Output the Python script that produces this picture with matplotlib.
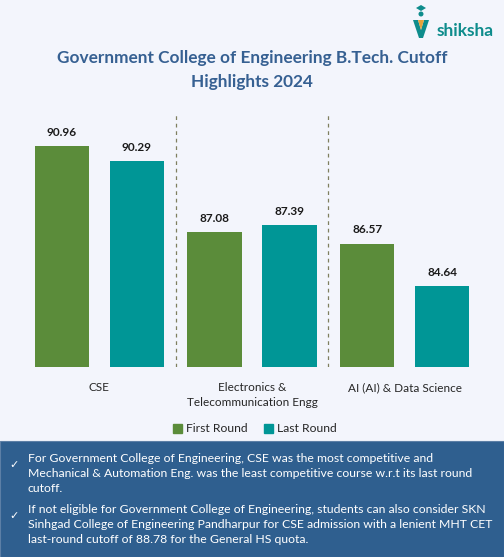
import matplotlib.pyplot as plt
import matplotlib.patches as patches
import numpy as np

# Dati
categories = ['CSE', 'Electronics &\nTelecommunication Engg', 'AI (AI) & Data Science']
first_round = [90.96, 87.08, 86.57]
last_round = [90.29, 87.39, 84.64]
series_names = ['First Round', 'Last Round']

notes = [
    'For Government College of Engineering, CSE was the most competitive and\n'
    'Mechanical & Automation Eng. was the least competitive course w.r.t its last round\n'
    'cutoff.',
    'If not eligible for Government College of Engineering, students can also consider SKN\n'
    'Sinhgad College of Engineering Pandharpur for CSE admission with a lenient MHT CET\n'
    'last-round cutoff of 88.78 for the General HS quota.',
]

bg = '#F3F5FC'
green = '#5B8C3A'
teal = '#009696'
title_blue = '#366092'
box_blue = '#2F5F8F'

plt.rcParams['font.family'] = ['Lato', 'DejaVu Sans']

W, H = 504, 557
fig = plt.figure(figsize=(W / 100, H / 100), dpi=100, facecolor=bg)


def px(x, y):
    # pixel (da in alto a sinistra) -> coordinate figura
    return (x / W, 1 - y / H)


# Area del grafico
left, right, top, bottom = 23, 481, 114, 367
ax = fig.add_axes([left / W, 1 - bottom / H, (right - left) / W, (bottom - top) / H])
ax.set_facecolor(bg)

x = np.arange(len(categories))
bw = 0.357
off = 0.246
b1 = ax.bar(x - off, first_round, bw, color=green)
b2 = ax.bar(x + off, last_round, bw, color=teal)
ax.set_ylim(81, 92.42)
ax.set_xlim(-0.5, len(categories) - 0.5)

for bars in (b1, b2):
    ax.bar_label(bars, labels=[f'{v:.2f}' for v in bars.datavalues], padding=6,
                 fontsize=8.5, fontweight='bold', color='#1a1a1a')

for sep in x[:-1] + 0.5:
    ax.axvline(sep, color='#7F7F5F', lw=0.9, ls=(0, (3, 3)))

ax.set_yticks([])
ax.set_xticks(x)
ax.set_xticklabels(categories, fontsize=8.5, color='#262626', linespacing=1.45, va='top')
ax.tick_params(axis='x', length=0, pad=11)
for s in ax.spines.values():
    s.set_visible(False)

# Legenda
handles = [patches.Patch(color=green), patches.Patch(color=teal)]
fig.legend(handles, series_names, loc='center', bbox_to_anchor=px(255, 429),
           ncol=2, frameon=False, fontsize=8.7, handlelength=0.7, handleheight=0.7,
           handletextpad=0.35, columnspacing=1.4, labelcolor='#262626')

# Titolo
fig.text(*px(252, 58), 'Government College of Engineering B.Tech. Cutoff',
         ha='center', va='center', fontsize=12.4, fontweight='bold', color=title_blue)
fig.text(*px(252, 82), 'Highlights 2024',
         ha='center', va='center', fontsize=12.4, fontweight='bold', color=title_blue)

# Logo
fig.text(*px(494, 31), 'shiksha', ha='right', va='center', fontsize=12.5,
         color='#0E8C8C', fontweight='bold')
cup = patches.Polygon([px(413, 20), px(418, 20), px(421, 30), px(424, 20), px(429, 20),
                       px(423, 38), px(419, 38)], closed=True, transform=fig.transFigure,
                      facecolor='#0E8C8C', edgecolor='none')
flame = patches.Polygon([px(418, 20), px(424, 20), px(421, 30)], closed=True,
                        transform=fig.transFigure, facecolor='#E8A33A', edgecolor='none')
cap = patches.Polygon([px(416, 8), px(421, 5), px(426, 8), px(421, 11)], closed=True,
                      transform=fig.transFigure, facecolor='#0E8C8C', edgecolor='none')
head = patches.Ellipse(px(421, 14), 5 / W, 5 / H, transform=fig.transFigure,
                       facecolor='#0E8C8C', edgecolor='none')
for p in (cup, flame, cap, head):
    fig.patches.append(p)

# Riquadro note
fig.patches.append(patches.Rectangle((0, 0), 1, 1 - 441 / H, transform=fig.transFigure,
                                     facecolor=box_blue, edgecolor='#5C7FA6', lw=0.8))
note_y = [460, 511]
for ny, note in zip(note_y, notes):
    fig.text(*px(14, ny), '\u2713', ha='center', va='top', fontsize=8,
             color='white', family=['DejaVu Sans'])
    fig.text(*px(28, ny - 7), note, ha='left', va='top', fontsize=8.8,
             color='white', linespacing=1.45)

fig.savefig('out.png', dpi=100, facecolor=bg)
